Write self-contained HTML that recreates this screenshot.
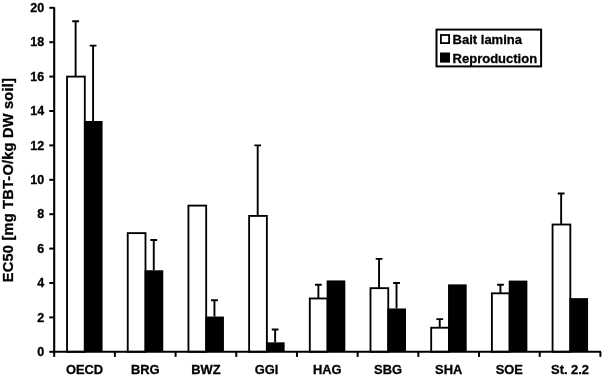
<!DOCTYPE html>
<html><head><meta charset="utf-8"><title>EC50 chart</title>
<style>html,body{margin:0;padding:0;background:#fff}svg{display:block}text{font-family:"Liberation Sans",Arial,sans-serif;font-weight:bold;fill:#000;stroke:#000;stroke-width:0.3px}</style></head><body>
<svg width="602" height="379" viewBox="0 0 602 379">
<rect width="602" height="379" fill="#fff"/>
<rect x="67.05" y="76.60" width="17.75" height="275.20" fill="#fff" stroke="#000" stroke-width="1.85"/>
<rect x="83.90" y="120.98" width="18.65" height="230.82" fill="#000"/>
<path d="M75.62 76.60V21.22M72.22 21.22H79.03" stroke="#000" stroke-width="1.9" fill="none"/>
<path d="M93.08 120.98V45.64M89.67 45.64H96.48" stroke="#000" stroke-width="1.9" fill="none"/>
<text x="84.55" y="373.5" font-size="12.9" text-anchor="middle">OECD</text>
<rect x="127.74" y="233.12" width="17.75" height="118.68" fill="#fff" stroke="#000" stroke-width="1.85"/>
<rect x="144.59" y="270.27" width="18.65" height="81.53" fill="#000"/>
<path d="M153.77 270.27V240.00M150.37 240.00H157.17" stroke="#000" stroke-width="1.9" fill="none"/>
<text x="145.24" y="373.5" font-size="12.9" text-anchor="middle">BRG</text>
<rect x="188.43" y="205.60" width="17.75" height="146.20" fill="#fff" stroke="#000" stroke-width="1.85"/>
<rect x="205.28" y="316.54" width="18.65" height="35.26" fill="#000"/>
<path d="M214.45 316.54V300.20M211.05 300.20H217.85" stroke="#000" stroke-width="1.9" fill="none"/>
<text x="205.92" y="373.5" font-size="12.9" text-anchor="middle">BWZ</text>
<rect x="249.12" y="215.92" width="17.75" height="135.88" fill="#fff" stroke="#000" stroke-width="1.85"/>
<rect x="265.97" y="342.34" width="18.65" height="9.46" fill="#000"/>
<path d="M257.69 215.92V145.40M254.29 145.40H261.09" stroke="#000" stroke-width="1.9" fill="none"/>
<path d="M275.14 342.34V329.44M271.75 329.44H278.54" stroke="#000" stroke-width="1.9" fill="none"/>
<text x="266.62" y="373.5" font-size="12.9" text-anchor="middle">GGI</text>
<rect x="309.81" y="298.48" width="17.75" height="53.32" fill="#fff" stroke="#000" stroke-width="1.85"/>
<rect x="326.66" y="280.42" width="18.65" height="71.38" fill="#000"/>
<path d="M318.38 298.48V284.72M314.99 284.72H321.78" stroke="#000" stroke-width="1.9" fill="none"/>
<text x="327.30" y="373.5" font-size="12.9" text-anchor="middle">HAG</text>
<rect x="370.50" y="288.16" width="17.75" height="63.64" fill="#fff" stroke="#000" stroke-width="1.85"/>
<rect x="387.35" y="308.46" width="18.65" height="43.34" fill="#000"/>
<path d="M379.07 288.16V258.92M375.68 258.92H382.47" stroke="#000" stroke-width="1.9" fill="none"/>
<path d="M396.52 308.46V283.00M393.12 283.00H399.92" stroke="#000" stroke-width="1.9" fill="none"/>
<text x="388.00" y="373.5" font-size="12.9" text-anchor="middle">SBG</text>
<rect x="431.19" y="327.72" width="17.75" height="24.08" fill="#fff" stroke="#000" stroke-width="1.85"/>
<rect x="448.04" y="284.38" width="18.65" height="67.42" fill="#000"/>
<path d="M439.76 327.72V319.12M436.37 319.12H443.16" stroke="#000" stroke-width="1.9" fill="none"/>
<text x="448.68" y="373.5" font-size="12.9" text-anchor="middle">SHA</text>
<rect x="491.88" y="293.32" width="17.75" height="58.48" fill="#fff" stroke="#000" stroke-width="1.85"/>
<rect x="508.73" y="280.59" width="18.65" height="71.21" fill="#000"/>
<path d="M500.45 293.32V284.72M497.06 284.72H503.85" stroke="#000" stroke-width="1.9" fill="none"/>
<text x="509.38" y="373.5" font-size="12.9" text-anchor="middle">SOE</text>
<rect x="552.57" y="224.52" width="17.75" height="127.28" fill="#fff" stroke="#000" stroke-width="1.85"/>
<rect x="569.42" y="298.14" width="18.65" height="53.66" fill="#000"/>
<path d="M561.15 224.52V193.56M557.75 193.56H564.55" stroke="#000" stroke-width="1.9" fill="none"/>
<text x="570.07" y="373.5" font-size="12.9" text-anchor="middle">St. 2.2</text>
<path d="M54.2 7.2V351.8H601" stroke="#000" stroke-width="2.1" fill="none"/>
<path d="M114.89 351.8V356.90000000000003" stroke="#000" stroke-width="2"/>
<path d="M175.58 351.8V356.90000000000003" stroke="#000" stroke-width="2"/>
<path d="M236.27 351.8V356.90000000000003" stroke="#000" stroke-width="2"/>
<path d="M296.96 351.8V356.90000000000003" stroke="#000" stroke-width="2"/>
<path d="M357.65 351.8V356.90000000000003" stroke="#000" stroke-width="2"/>
<path d="M418.34 351.8V356.90000000000003" stroke="#000" stroke-width="2"/>
<path d="M479.03 351.8V356.90000000000003" stroke="#000" stroke-width="2"/>
<path d="M539.72 351.8V356.90000000000003" stroke="#000" stroke-width="2"/>
<path d="M600.41 351.8V356.90000000000003" stroke="#000" stroke-width="2"/>
<path d="M54.2 351.8V356.90000000000003" stroke="#000" stroke-width="2"/>
<path d="M49.3 351.80H54.2" stroke="#000" stroke-width="2"/>
<text x="44.1" y="356.00" font-size="12.5" text-anchor="end">0</text>
<path d="M49.3 317.40H54.2" stroke="#000" stroke-width="2"/>
<text x="44.1" y="321.60" font-size="12.5" text-anchor="end">2</text>
<path d="M49.3 283.00H54.2" stroke="#000" stroke-width="2"/>
<text x="44.1" y="287.20" font-size="12.5" text-anchor="end">4</text>
<path d="M49.3 248.60H54.2" stroke="#000" stroke-width="2"/>
<text x="44.1" y="252.80" font-size="12.5" text-anchor="end">6</text>
<path d="M49.3 214.20H54.2" stroke="#000" stroke-width="2"/>
<text x="44.1" y="218.40" font-size="12.5" text-anchor="end">8</text>
<path d="M49.3 179.80H54.2" stroke="#000" stroke-width="2"/>
<text x="44.1" y="184.00" font-size="12.5" text-anchor="end">10</text>
<path d="M49.3 145.40H54.2" stroke="#000" stroke-width="2"/>
<text x="44.1" y="149.60" font-size="12.5" text-anchor="end">12</text>
<path d="M49.3 111.00H54.2" stroke="#000" stroke-width="2"/>
<text x="44.1" y="115.20" font-size="12.5" text-anchor="end">14</text>
<path d="M49.3 76.60H54.2" stroke="#000" stroke-width="2"/>
<text x="44.1" y="80.80" font-size="12.5" text-anchor="end">16</text>
<path d="M49.3 42.20H54.2" stroke="#000" stroke-width="2"/>
<text x="44.1" y="46.40" font-size="12.5" text-anchor="end">18</text>
<path d="M49.3 7.80H54.2" stroke="#000" stroke-width="2"/>
<text x="44.1" y="12.00" font-size="12.5" text-anchor="end">20</text>
<text transform="translate(13.0,282.2) rotate(-90)" font-size="14.6" textLength="204.1" lengthAdjust="spacing">EC50 [mg TBT-O/kg DW soil]</text>
<rect x="436.5" y="29.6" width="104.6" height="36.8" fill="#fff" stroke="#000" stroke-width="2"/>
<rect x="440.9" y="35.0" width="8.2" height="8.1" fill="#fff" stroke="#000" stroke-width="1.8"/>
<rect x="440" y="52.5" width="10" height="10.1" fill="#000"/>
<text x="452.6" y="43.7" font-size="13">Bait lamina</text>
<text x="452.6" y="62.7" font-size="13">Reproduction</text>
</svg></body></html>
